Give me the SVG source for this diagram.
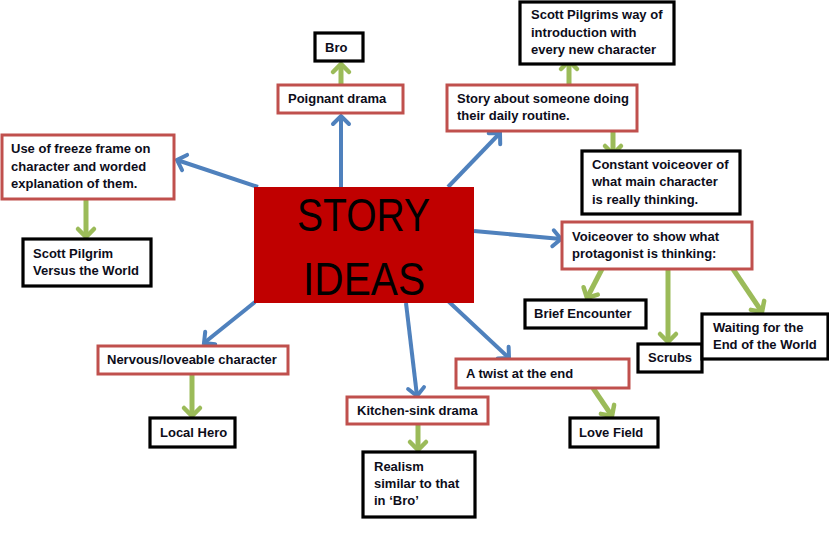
<svg xmlns="http://www.w3.org/2000/svg" width="829" height="550" viewBox="0 0 829 550">
<style>
.bg{fill:#fff}
.red{fill:#fff;stroke:#C0504D;stroke-width:3}
.blk{fill:#fff;stroke:#000;stroke-width:3.2}
.t{font-family:"Liberation Sans",Arial,sans-serif;font-weight:bold;font-size:13px;fill:#0d0d1a}
.big{font-family:"Liberation Sans",Arial,sans-serif;font-size:46px;fill:#000}
.blue{stroke:#4F81BD;stroke-width:4;fill:none;marker-end:url(#ab)}
.green{stroke:#9BBB59;stroke-width:5;fill:none;marker-end:url(#ag)}
</style>
<defs>
<marker id="ab" markerUnits="userSpaceOnUse" viewBox="-12 -12 16 24" refX="0" refY="0" markerWidth="16" markerHeight="24" orient="auto" overflow="visible">
<path d="M-8,-8 L0,0 L-8,8" fill="none" stroke="#4F81BD" stroke-width="4" stroke-linecap="round"/>
</marker>
<marker id="ag" markerUnits="userSpaceOnUse" viewBox="-12 -12 16 24" refX="0" refY="0" markerWidth="16" markerHeight="24" orient="auto" overflow="visible">
<path d="M-8,-8 L0,0 L-8,8" fill="none" stroke="#9BBB59" stroke-width="4.5" stroke-linecap="round"/>
</marker>
</defs>
<rect class="bg" x="0" y="0" width="829" height="550"/>
<g id="connectors">
<line class="blue" x1="341" y1="187" x2="341" y2="116"/>
<line class="blue" x1="258" y1="187" x2="177" y2="160"/>
<line class="blue" x1="448" y1="187" x2="500" y2="133"/>
<line class="blue" x1="474" y1="231" x2="561" y2="239"/>
<line class="blue" x1="255" y1="302" x2="204" y2="343"/>
<line class="blue" x1="406" y1="303" x2="417" y2="396"/>
<line class="blue" x1="447" y1="300" x2="509" y2="358"/>
<line class="green" x1="341" y1="85" x2="341" y2="64"/>
<line class="green" x1="86" y1="199" x2="86" y2="237"/>
<line class="green" x1="569" y1="85" x2="569" y2="61"/>
<line class="green" x1="613" y1="131" x2="613" y2="154"/>
<line class="green" x1="602" y1="269" x2="587" y2="298"/>
<line class="green" x1="668" y1="269" x2="668" y2="342"/>
<line class="green" x1="733" y1="269" x2="762" y2="312"/>
<line class="green" x1="192" y1="374" x2="192" y2="416"/>
<line class="green" x1="418" y1="424" x2="418" y2="450"/>
<line class="green" x1="593" y1="388" x2="612" y2="416"/>
</g>
<g id="center">
<rect x="254" y="187" width="220" height="116" fill="#C00000"/>
<text class="big" x="363.5" y="231" text-anchor="middle" textLength="133" lengthAdjust="spacingAndGlyphs">STORY</text>
<text class="big" x="364" y="295" text-anchor="middle" textLength="122" lengthAdjust="spacingAndGlyphs">IDEAS</text>
</g>
<g id="bro"><rect class="blk" x="315" y="33" width="48" height="28"/><text class="t" x="325" y="52">Bro</text></g>
<g id="poignant"><rect class="red" x="278" y="85" width="125" height="28"/><text class="t" x="288" y="103">Poignant drama</text></g>
<g id="freeze"><rect class="red" x="2" y="135" width="172" height="64"/><text class="t" x="11" y="153">Use of freeze frame on</text><text class="t" x="11" y="171">character and worded</text><text class="t" x="11" y="188">explanation of them.</text></g>
<g id="scottpilgrim"><rect class="blk" x="23" y="239" width="128" height="47"/><text class="t" x="33" y="258">Scott Pilgrim</text><text class="t" x="33" y="275">Versus the World</text></g>
<g id="scottway"><rect class="blk" x="520" y="2" width="154" height="62"/><text class="t" x="531" y="19">Scott Pilgrims way of</text><text class="t" x="531" y="37">introduction with</text><text class="t" x="531" y="54">every new character</text></g>
<g id="story"><rect class="red" x="447" y="85" width="190" height="46"/><text class="t" x="457" y="103">Story about someone doing</text><text class="t" x="457" y="120">their daily routine.</text></g>
<g id="constant"><rect class="blk" x="582" y="151" width="158" height="63"/><text class="t" x="592" y="169">Constant voiceover of</text><text class="t" x="592" y="186">what main character</text><text class="t" x="592" y="204">is really thinking.</text></g>
<g id="voiceover"><rect class="red" x="562" y="222" width="190" height="47"/><text class="t" x="572" y="241">Voiceover to show what</text><text class="t" x="572" y="258">protagonist is thinking:</text></g>
<g id="brief"><rect class="blk" x="525" y="300" width="121" height="28"/><text class="t" x="534" y="318">Brief Encounter</text></g>
<g id="scrubs"><rect class="blk" x="638" y="344" width="64" height="28"/><text class="t" x="648" y="362">Scrubs</text></g>
<g id="waiting"><rect class="blk" x="702" y="314" width="126" height="45"/><text class="t" x="713" y="332">Waiting for the</text><text class="t" x="713" y="349">End of the World</text></g>
<g id="nervous"><rect class="red" x="98" y="346" width="190" height="28"/><text class="t" x="107" y="364">Nervous/loveable character</text></g>
<g id="localhero"><rect class="blk" x="150" y="418" width="85" height="29"/><text class="t" x="160" y="437">Local Hero</text></g>
<g id="kitchen"><rect class="red" x="347" y="397" width="141" height="27"/><text class="t" x="357" y="415">Kitchen-sink drama</text></g>
<g id="realism"><rect class="blk" x="363" y="452" width="112" height="65"/><text class="t" x="374" y="471">Realism</text><text class="t" x="374" y="488">similar to that</text><text class="t" x="374" y="505">in ‘Bro’</text></g>
<g id="twist"><rect class="red" x="456" y="359" width="173" height="29"/><text class="t" x="466" y="378">A twist at the end</text></g>
<g id="lovefield"><rect class="blk" x="570" y="418" width="88" height="29"/><text class="t" x="579" y="437">Love Field</text></g>
</svg>
